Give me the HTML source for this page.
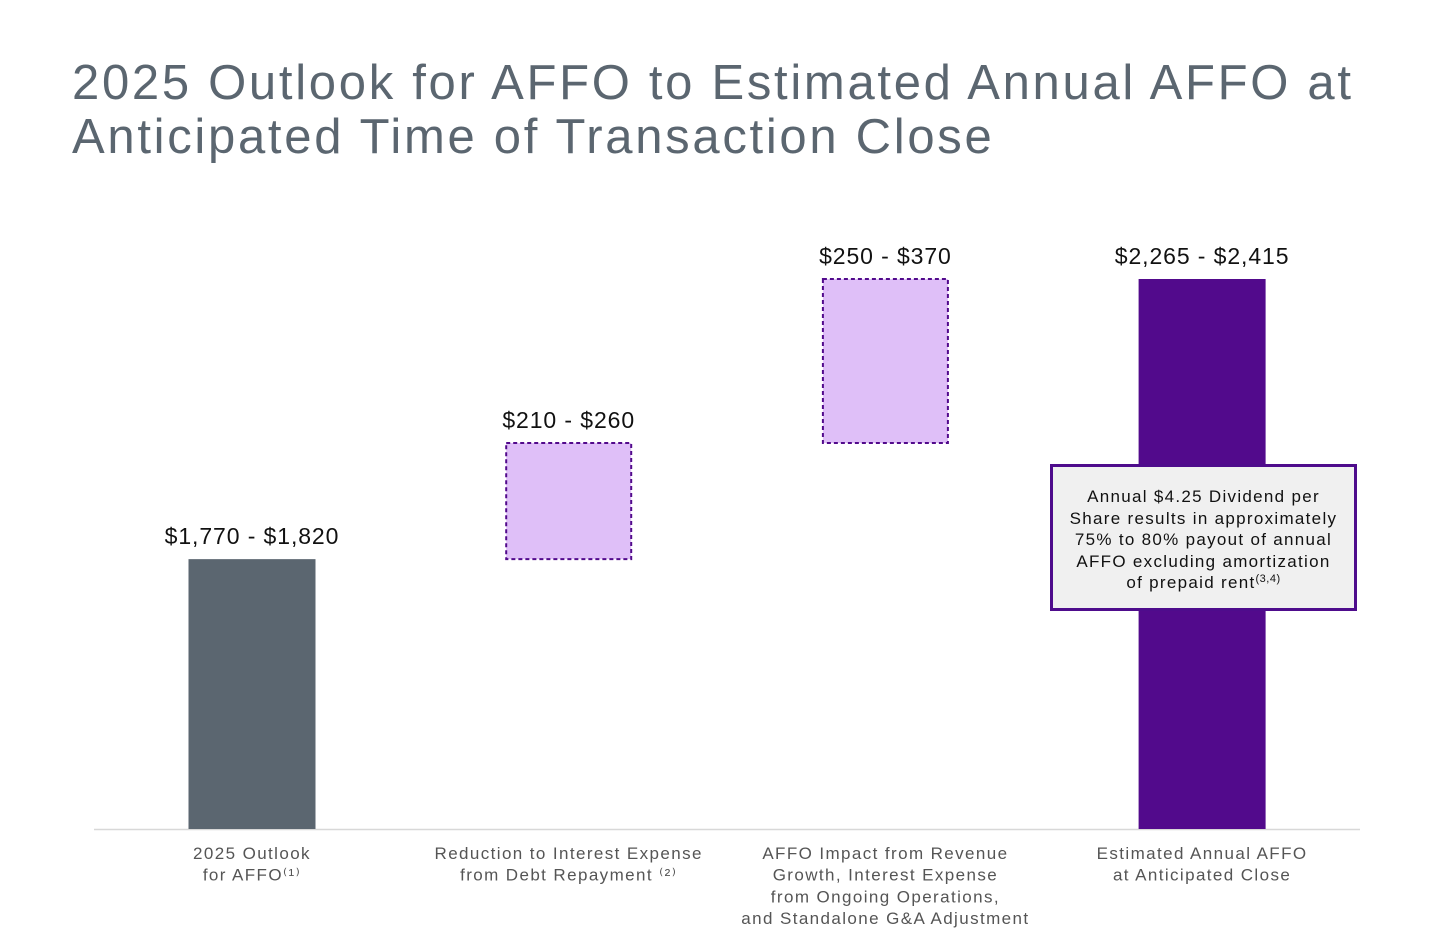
<!DOCTYPE html>
<html><head><meta charset="utf-8"><style>
body{margin:0;background:#fff;width:1438px;height:936px;overflow:hidden;font-family:"Liberation Sans",sans-serif;}
#title{position:absolute;left:72px;top:56px;font-size:49px;line-height:54px;color:#5b6670;letter-spacing:2.7px;margin:0;font-weight:normal;white-space:nowrap}
svg{position:absolute;left:0;top:0}
#note{position:absolute;left:1050px;top:464px;width:307px;height:147px;border:3px solid #4e0c8c;background:#f0f0f0;box-sizing:border-box;text-align:center;font-size:17px;line-height:21.5px;letter-spacing:1.3px;color:#111;padding-top:19px}
sup{font-size:11px;vertical-align:6px;line-height:0;letter-spacing:0.5px}
</style></head><body>
<h1 id="title">2025 Outlook for AFFO to Estimated Annual AFFO at<br>Anticipated Time of Transaction Close</h1>
<svg id="chart" width="1438" height="936"></svg>
<div id="note">Annual $4.25 Dividend per<br>Share results in approximately<br>75% to 80% payout of annual<br>AFFO excluding amortization<br>of prepaid rent<sup>(3,4)</sup></div>
<script>
const categories=[["2025 Outlook","for AFFO⁽¹⁾"],["Reduction to Interest Expense","from Debt Repayment ⁽²⁾"],["AFFO Impact from Revenue","Growth, Interest Expense","from Ongoing Operations,","and Standalone G&A Adjustment"],["Estimated Annual AFFO","at Anticipated Close"]];
const values=[1795,226,319,2340];
const types=["total","delta","delta","total"];
const valueLabels=["$1,770 - $1,820","$210 - $260","$250 - $370","$2,265 - $2,415"];
const yMin=1270, yMax=2340;
const svg=document.getElementById('chart');
const NS='http://www.w3.org/2000/svg';
const baseY=829, topY=279;
const y=v=>baseY-(v-yMin)/(yMax-yMin)*(baseY-topY);
const xc=i=>252+i*316.7;
const bw=127;
function mk(t,a){const e=document.createElementNS(NS,t);for(const k in a)e.setAttribute(k,a[k]);svg.appendChild(e);return e;}
const ax=mk('line',{x1:94,x2:1360,y1:baseY+0.5,y2:baseY+0.5,stroke:'#d8d8d8','stroke-width':1.5});


let run=0;
values.forEach((v,i)=>{
  let lo,hi,r;
  if(types[i]==='total'){lo=yMin;hi=v;run=v;}else{lo=run;hi=run+v;run=hi;}
  const fill=i===0?'#5b6670':(types[i]==='total'?'#520a8c':'#dfbff8');
  const a={x:xc(i)-bw/2,y:y(hi),width:bw,height:y(lo)-y(hi),fill:fill};
  if(types[i]==='delta'){a.stroke='#520a8c';a['stroke-width']=2;a['stroke-dasharray']='4,3';a.x+=1;a.width-=2;}
  r=mk('rect',a);
  
  
  const t=mk('text',{x:xc(i),y:y(hi)-15,'text-anchor':'middle','font-size':23,fill:'#111','letter-spacing':0.9});
  t.textContent=valueLabels[i];
  
  
  categories[i].forEach((ln,j)=>{
    const c=mk('text',{x:xc(i),y:859+j*21.7,'text-anchor':'middle','font-size':17,fill:'#555','letter-spacing':1.4});
    c.textContent=ln;
    
    
  });
});
</script>
</body></html>
